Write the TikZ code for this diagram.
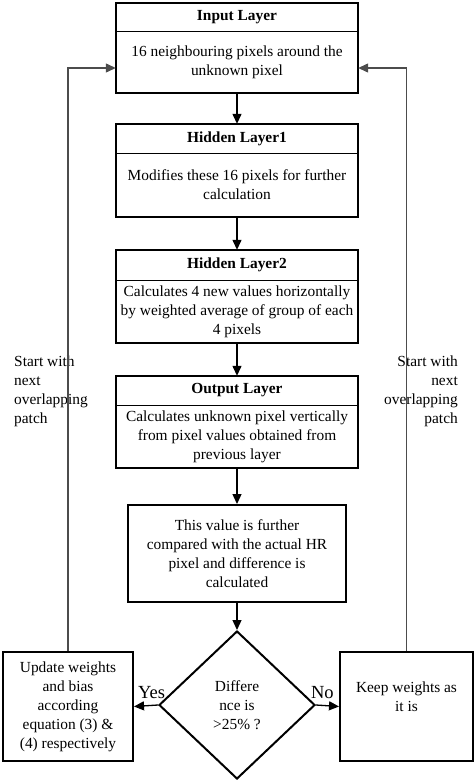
\documentclass[tikz,border=0pt]{standalone}
\usepackage{fontspec}
\setmainfont{Liberation Serif}
\usetikzlibrary{arrows.meta,shapes.geometric}
\begin{document}
\begin{tikzpicture}[x=1pt,y=-1pt,
  every node/.style={font=\fontsize{15.4}{19}\selectfont, inner sep=0pt},
  hdr/.style={minimum width=242pt, font=\fontsize{15.4}{19}\selectfont\bfseries},
  bdy/.style={minimum width=242pt, align=center, anchor=north},
  frame/.style={line width=2pt},
  divl/.style={line width=1pt},
  tipx/.tip={Triangle[length=10pt,width=9pt]},
  arr/.style={line width=1.3pt, -tipx},
  loopl/.style={line width=1.3pt, draw=black!70, -tipx},
  box/.style={draw, frame, align=center},
  yn/.style={font=\fontsize{18.5}{22}\selectfont, above=6pt}
]
\useasboundingbox (0,0) rectangle (474,781);

% Input layer
\node[hdr, minimum height=28pt] (inh) at (237,17) {Input Layer};
\node[bdy, minimum height=61pt] (inb) at (inh.south) {16 neighbouring pixels around the\\unknown pixel};
% Hidden layer 1
\node[hdr, minimum height=29pt] (h1h) at (237,138.5) {Hidden Layer1};
\node[bdy, minimum height=63pt] (h1b) at (h1h.south) {Modifies these 16 pixels for further\\calculation};
% Hidden layer 2
\node[hdr, minimum height=30pt] (h2h) at (237,265) {Hidden Layer2};
\node[bdy, minimum height=62pt] (h2b) at (h2h.south) {Calculates 4 new values horizontally\\by weighted average of group of each\\4 pixels};
% Output layer
\node[hdr, minimum height=29pt] (ouh) at (237,390.5) {Output Layer};
\node[bdy, minimum height=62pt] (oub) at (ouh.south) {Calculates unknown pixel vertically\\from pixel values obtained from\\previous layer};

\foreach \h/\b in {inh/inb, h1h/h1b, h2h/h2b, ouh/oub}{
  \draw[frame] (\h.north west) rectangle (\b.south east);
  \draw[divl] (\h.south west) -- (\h.south east);
}

% Comparison box
\node[box, minimum width=218pt, minimum height=97pt] (cmp) at (237,553.5)
  {This value is further\\compared with the actual HR\\pixel and difference is\\calculated};
% Decision
\node[diamond, draw, frame, minimum width=156pt, minimum height=148pt, align=center] (dia) at (237,705)
  {Differe\\nce is\\>25\% ?};
% Side boxes
\node[box, minimum width=130pt, minimum height=109pt] (lbox) at (68,706.5)
  {Update weights\\and bias\\according\\equation (3) \&\\(4) respectively};
\node[box, minimum width=133pt, minimum height=109pt] (rbox) at (406.5,706.5)
  {Keep weights as\\it is\\\mbox{}};

% Notes
\node[align=left, anchor=north west] (lnote) at (14,356) {Start with\\next\\overlapping\\patch};
\node[align=right, anchor=north east] (rnote) at (458,356) {Start with\\next\\overlapping\\patch};

% Main flow
\draw[arr] (inb.south) -- (h1h.north);
\draw[arr] (h1b.south) -- (h2h.north);
\draw[arr] (h2b.south) -- (ouh.north);
\draw[arr] (oub.south) -- (cmp.north);
\draw[arr] (cmp.south) -- (dia.north);
\draw[arr] (dia.west) -- (lbox.east) node[yn, pos=0.27] (yes) {Yes};
\draw[arr] (dia.east) -- (rbox.west) node[yn, pos=0.28] (no) {No};

% Feedback loops
\coordinate (ltop) at (67,68);
\coordinate (rtop) at (406,68);
\draw[loopl] (lbox.north) |- (inb.west |- ltop);
\draw[loopl] (rbox.north) |- (inb.east |- rtop);
\end{tikzpicture}
\end{document}
